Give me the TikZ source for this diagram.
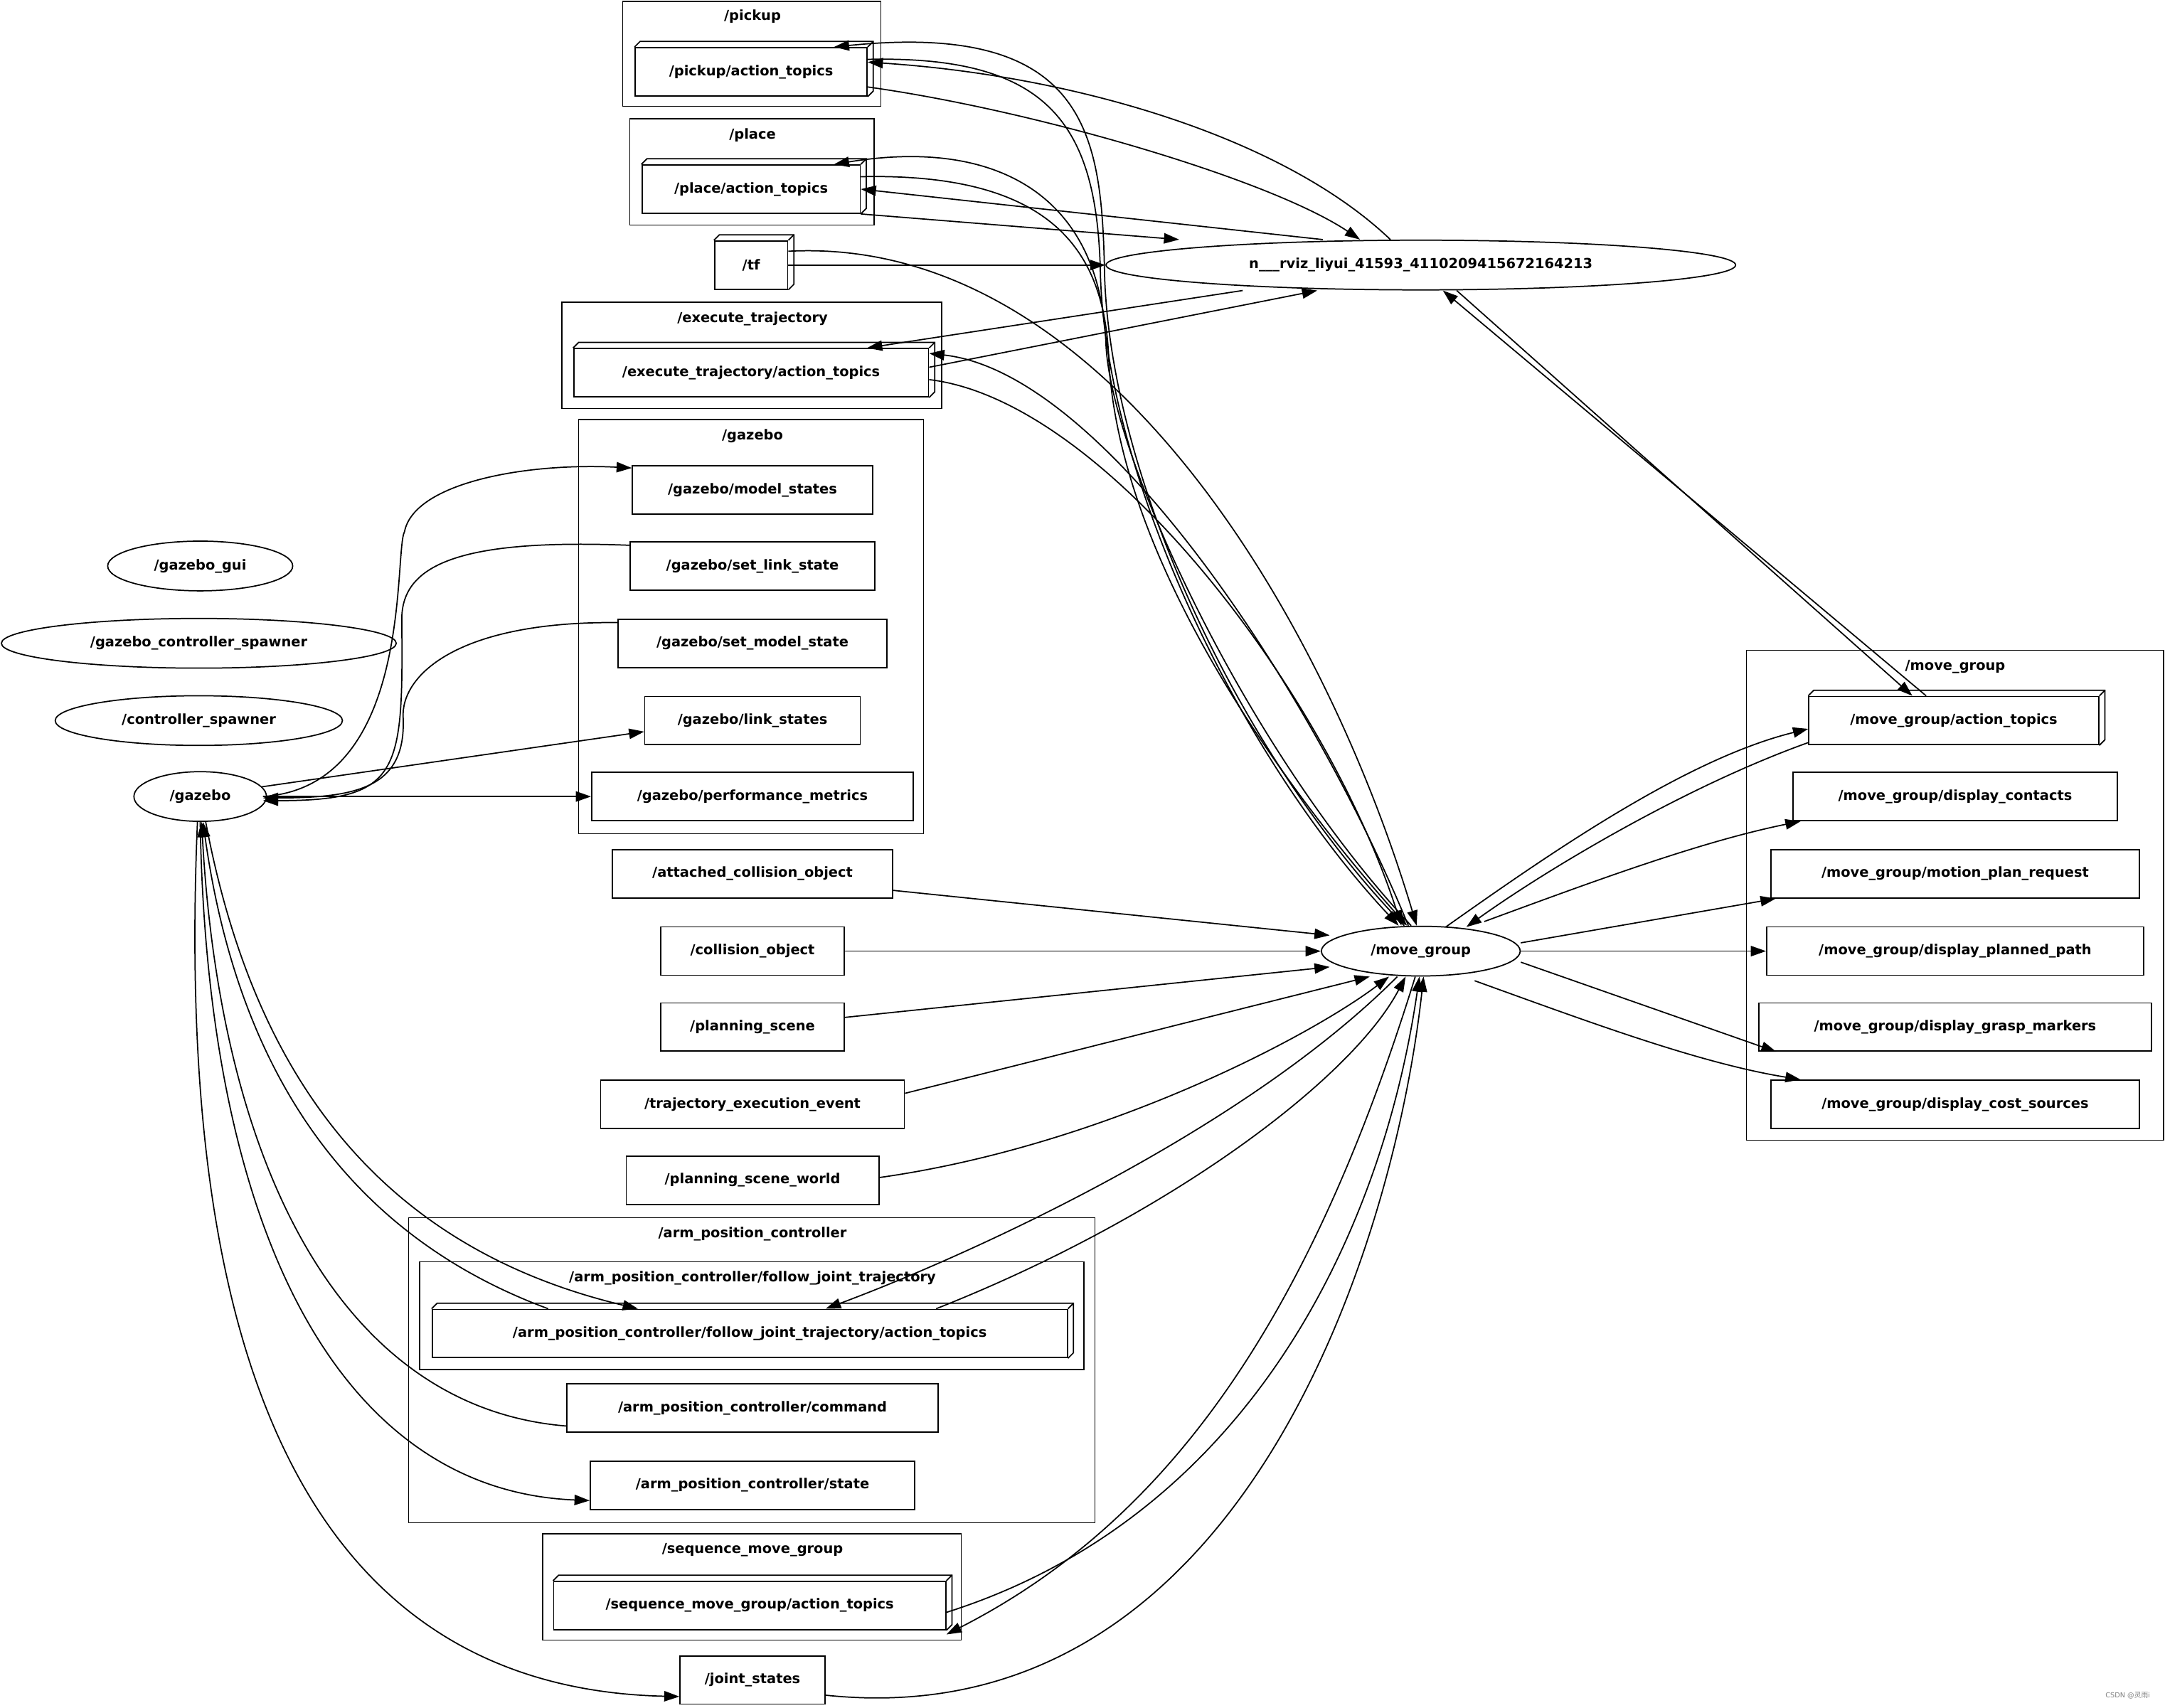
\documentclass[tikz,border=0pt]{standalone}
\usepackage{fontspec}
\setmainfont{DejaVu Sans}
\newfontfamily\cjk{Noto Sans CJK SC}
\usetikzlibrary{arrows.meta,shapes.geometric}
\begin{document}
\begin{tikzpicture}[x=1pt,y=-1pt,line width=0.9pt,
  every node/.style={font=\fontsize{10}{12}\selectfont\bfseries},
  box/.style={draw,rectangle,minimum height=35pt,inner sep=0pt},
  ell/.style={draw,ellipse,minimum height=36pt,inner sep=0pt},
  clus/.style={draw,line width=0.7pt},
  lab/.style={anchor=center},
  e/.style={-{Triangle[length=11pt,width=7.5pt]}}]
\useasboundingbox (0,0) rectangle (1568,1237);
\newcommand{\boxthree}[1]{\draw ([yshift=0pt]#1.north west) -- ++(4pt,4pt) -- ([shift={(4pt,4pt)}]#1.north east) -- ([shift={(4pt,4pt)}]#1.south east) -- (#1.south east); \draw (#1.north east) -- ++(4pt,4pt);}
% clusters
\draw[clus] (451,1) rectangle (638,77); \node[lab] (cpick) at (545,12) {/pickup};
\draw[clus] (456,86) rectangle (633,163); \node[lab] (cplace) at (545,98) {/place};
\draw[clus] (407,219) rectangle (682,296); \node[lab] (cexe) at (545,231) {/execute\_trajectory};
\draw[clus] (419,304) rectangle (669,604); \node[lab] (cgz) at (545,316) {/gazebo};
\draw[clus] (296,882) rectangle (793,1103); \node[lab] (carm) at (545,894) {/arm\_position\_controller};
\draw[clus] (304,914) rectangle (785,992); \node[lab] (cfjt) at (545,926) {/arm\_position\_controller/follow\_joint\_trajectory};
\draw[clus] (393,1111) rectangle (696,1188); \node[lab] (cseq) at (545,1123) {/sequence\_move\_group};
\draw[clus] (1265,471) rectangle (1567,826); \node[lab] (cmg) at (1416,483) {/move\_group};
% nodes
\node[box,minimum width=168pt] (pick) at (544,52) {/pickup/action\_topics}; \boxthree{pick}
\node[box,minimum width=158pt] (place) at (544,137) {/place/action\_topics}; \boxthree{place}
\node[box,minimum width=53pt] (tf) at (544,192) {/tf}; \boxthree{tf}
\node[ell,minimum width=456pt] (rviz) at (1029,192) {n\_\_\_rviz\_liyui\_41593\_4110209415672164213};
\node[box,minimum width=257pt] (exe) at (544,270) {/execute\_trajectory/action\_topics}; \boxthree{exe}
\node[box,minimum width=174pt] (ms) at (545,355) {/gazebo/model\_states};
\node[box,minimum width=177pt] (sls) at (545,410) {/gazebo/set\_link\_state};
\node[box,minimum width=195pt] (sms) at (545,466) {/gazebo/set\_model\_state};
\node[box,minimum width=156pt] (ls) at (545,522) {/gazebo/link\_states};
\node[box,minimum width=233pt] (pm) at (545,577) {/gazebo/performance\_metrics};
\node[ell,minimum width=134pt] (ggui) at (145,410) {/gazebo\_gui};
\node[ell,minimum width=286pt] (gcs) at (144,466) {/gazebo\_controller\_spawner};
\node[ell,minimum width=208pt] (cs) at (144,522) {/controller\_spawner};
\node[ell,minimum width=96pt] (gz) at (145,577) {/gazebo};
\node[box,minimum width=203pt] (aco) at (545,633) {/attached\_collision\_object};
\node[box,minimum width=133pt] (co) at (545,689) {/collision\_object};
\node[box,minimum width=133pt] (ps) at (545,744) {/planning\_scene};
\node[box,minimum width=220pt] (tee) at (545,800) {/trajectory\_execution\_event};
\node[box,minimum width=183pt] (psw) at (545,855) {/planning\_scene\_world};
\node[ell,minimum width=144pt] (mg) at (1029,689) {/move\_group};
\node[box,minimum width=460pt] (fjt) at (543,966) {/arm\_position\_controller/follow\_joint\_trajectory/action\_topics}; \boxthree{fjt}
\node[box,minimum width=269pt] (cmd) at (545,1020) {/arm\_position\_controller/command};
\node[box,minimum width=235pt] (st) at (545,1076) {/arm\_position\_controller/state};
\node[box,minimum width=284pt] (seq) at (543,1163) {/sequence\_move\_group/action\_topics}; \boxthree{seq}
\node[box,minimum width=105pt] (js) at (545,1217) {/joint\_states};
\node[box,minimum width=210pt] (mga) at (1415,522) {/move\_group/action\_topics}; \boxthree{mga}
\node[box,minimum width=235pt] (dc) at (1416,577) {/move\_group/display\_contacts};
\node[box,minimum width=267pt] (mpr) at (1416,633) {/move\_group/motion\_plan\_request};
\node[box,minimum width=273pt] (dpp) at (1416,689) {/move\_group/display\_planned\_path};
\node[box,minimum width=284pt] (dgm) at (1416,744) {/move\_group/display\_grasp\_markers};
\node[box,minimum width=267pt] (dcs) at (1416,800) {/move\_group/display\_cost\_sources};
\node[text=gray,font=\fontsize{5}{6}\selectfont] (wm) at (1541,1228) {CSDN @{\cjk 灵雨}i};
% top edges
\draw[e] ([yshift=-11pt]pick.east) .. controls (750,80) and (920,130) .. ([xshift=-44pt]rviz.north);
\draw[e] ([xshift=-22pt]rviz.north) .. controls (930,100) and (780,55) .. ([yshift=7pt]pick.east);
\draw[e] ([xshift=-12pt]mg.north) .. controls (900,550) and (805,350) .. (800,200) .. controls (798,100) and (790,15) .. ([xshift=60pt]pick.north);
\draw[e] ([yshift=9pt]pick.east) .. controls (760,40) and (795,90) .. (797,200) .. controls (802,350) and (900,550) .. ([xshift=-16pt]mg.north);
\draw[e] ([xshift=-7pt]mg.north) .. controls (900,540) and (805,330) .. (801,250) .. controls (797,140) and (720,100) .. ([xshift=60pt]place.north);
\draw[e] ([yshift=9pt]place.east) .. controls (760,125) and (800,180) .. (803,260) .. controls (810,400) and (920,560) .. ([xshift=-10pt]mg.north);
\draw[e] ([xshift=-71pt]rviz.north) -- ([yshift=0pt]place.east);
\draw[e] ([yshift=-18pt]place.east) -- ([xshift=-175pt]rviz.north);
\draw[e] (tf.east) -- (rviz.west);
\draw[e] ([yshift=10pt]tf.east) .. controls (800,170) and (960,450) .. ([xshift=-3pt]mg.north);
\draw[e] ([xshift=-129pt]rviz.south) -- ([xshift=84pt]exe.north);
\draw[e] ([yshift=-14pt]exe.north east) -- ([xshift=-75pt]rviz.south);
\draw[e] ([xshift=-9pt]mg.north) .. controls (950,500) and (800,270) .. ([yshift=14pt]exe.east);
\draw[e] ([yshift=-5pt]exe.east) .. controls (800,290) and (960,500) .. ([xshift=-14pt]mg.north);
\draw[e] ([xshift=-20pt]mga.north) -- ([xshift=16pt]rviz.south);
\draw[e] ([xshift=26pt]rviz.south) -- ([xshift=-30pt]mga.north);
% gazebo
\draw[e] ([shift={(-3pt,0pt)}]gz.east) .. controls (300,570) and (285,400) .. (293,385) .. controls (300,350) and (380,335) .. ([yshift=16pt]ms.west);
\draw[e] ([yshift=15pt]sls.west) .. controls (330,390) and (290,410) .. (291,450) .. controls (292,560) and (290,580) .. ([shift={(-3pt,-3pt)}]gz.east);
\draw[e] ([yshift=15pt]sms.west) .. controls (330,450) and (290,490) .. (292,520) .. controls (294,570) and (260,578) .. ([shift={(-3pt,-1pt)}]gz.east);
\draw[e] ([shift={(-4pt,7pt)}]gz.east) -- ([yshift=-8pt]ls.west);
\draw[e] (gz.east) -- (pm.west);
\draw[e] ([xshift=4pt]gz.south) .. controls (180,760) and (260,900) .. ([xshift=-81pt]fjt.north);
\draw[e] ([xshift=-146pt]fjt.north) .. controls (240,890) and (170,760) .. ([xshift=2pt]gz.south);
\draw[e] ([yshift=-13pt]cmd.west) .. controls (250,1020) and (160,850) .. ([xshift=1pt]gz.south);
\draw[e] (gz.south) .. controls (150,900) and (250,1080) .. ([yshift=-11pt]st.west);
\draw[e] ([xshift=-2pt]gz.south) .. controls (130,900) and (180,1222) .. ([yshift=-12pt]js.west);
% into move_group
\draw[e] ([yshift=-12pt]aco.east) -- ([shift={(-66pt,-7pt)}]mg.north);
\draw[e] (co.east) -- (mg.west);
\draw[e] ([yshift=7pt]ps.east) -- ([shift={(-66pt,7pt)}]mg.south);
\draw[e] ([yshift=8pt]tee.east) -- ([xshift=-37pt]mg.south);
\draw[e] ([yshift=2pt]psw.east) .. controls (800,830) and (950,750) .. ([xshift=-23pt]mg.south);
\draw[e] ([xshift=-17pt]mg.south) .. controls (900,820) and (700,910) .. ([xshift=55pt]fjt.north);
\draw[e] ([xshift=135pt]fjt.north) .. controls (850,880) and (980,780) .. ([xshift=-11pt]mg.south);
\draw[e] ([xshift=-4pt]mg.south) .. controls (950,950) and (850,1100) .. ([yshift=-21pt]seq.east);
\draw[e] ([yshift=-5pt]seq.east) .. controls (900,1100) and (1000,900) .. ([xshift=-1pt]mg.south);
\draw[e] ([yshift=-11pt]js.east) .. controls (900,1260) and (1010,900) .. ([xshift=2pt]mg.south);
% move_group outputs
\draw[e] ([shift={(18pt,-1pt)}]mg.north) .. controls (1120,620) and (1220,550) .. ([yshift=-6pt]mga.west);
\draw[e] ([yshift=2pt]mga.south west) .. controls (1220,570) and (1120,630) .. ([shift={(33pt,-1pt)}]mg.north);
\draw[e] ([shift={(46pt,3pt)}]mg.north) .. controls (1150,640) and (1230,610) .. ([xshift=6pt]dc.south west);
\draw[e] ([yshift=6pt]mg.east) -- ([xshift=4pt]mpr.south west);
\draw[e] (mg.east) -- (dpp.west);
\draw[e] ([yshift=-8pt]mg.east) -- ([xshift=13pt]dgm.south west);
\draw[e] ([shift={(39pt,-3pt)}]mg.south) .. controls (1150,740) and (1230,770) .. ([xshift=22pt]dcs.north west);
\end{tikzpicture}
\end{document}
